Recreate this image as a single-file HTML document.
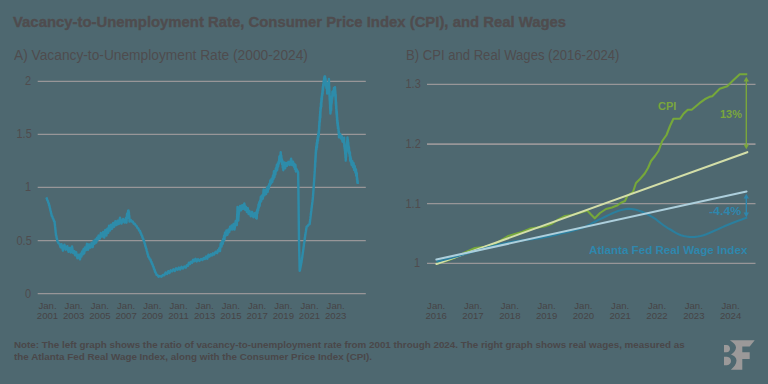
<!DOCTYPE html>
<html><head><meta charset="utf-8"><style>
html,body{margin:0;padding:0;}
body{width:768px;height:384px;overflow:hidden;background:#4e6870;position:relative;font-family:"Liberation Sans",sans-serif;color:#4f4c4e;}
.t{position:absolute;white-space:nowrap;}
#title{left:13px;top:13.7px;font-size:14.6px;font-weight:bold;transform-origin:0 0;transform:scaleX(1.019);-webkit-text-stroke:0.35px #4f4c4e;}
.sub{font-size:14px;transform-origin:0 0;}
.yl{position:absolute;font-size:12.8px;line-height:16px;text-align:right;white-space:nowrap;transform-origin:100% 50%;transform:scaleX(0.86);}
.xl{position:absolute;top:300.5px;color:#474446;width:40px;text-align:center;font-size:9.6px;line-height:10.4px;}
.note{left:13.5px;font-size:9.6px;font-weight:bold;transform-origin:0 0;color:#4a4749;}
.ann{position:absolute;font-weight:bold;white-space:nowrap;}
</style></head><body>
<svg width="768" height="384" viewBox="0 0 768 384" style="position:absolute;left:0;top:0"><line x1="37.7" y1="81.3" x2="365.8" y2="81.3" stroke="#989698" stroke-width="1.25"/><line x1="37.7" y1="134.4" x2="365.8" y2="134.4" stroke="#989698" stroke-width="1.25"/><line x1="37.7" y1="187.4" x2="365.8" y2="187.4" stroke="#989698" stroke-width="1.25"/><line x1="37.7" y1="240.5" x2="365.8" y2="240.5" stroke="#989698" stroke-width="1.25"/><line x1="37.7" y1="293.6" x2="365.8" y2="293.6" stroke="#989698" stroke-width="1.25"/><line x1="427" y1="84.4" x2="755.5" y2="84.4" stroke="#989698" stroke-width="1.25"/><line x1="427" y1="144.05" x2="755.5" y2="144.05" stroke="#989698" stroke-width="1.7"/><line x1="427" y1="203.6" x2="755.5" y2="203.6" stroke="#989698" stroke-width="1.25"/><line x1="427" y1="263.4" x2="755.5" y2="263.4" stroke="#989698" stroke-width="1.25"/><path d="M46.25 197.40 L46.76 198.29 L47.27 200.26 L47.78 200.80 L48.29 202.79 L48.80 203.26 L49.12 205.47 L49.44 205.59 L49.77 207.81 L50.09 208.41 L50.41 210.58 L50.73 211.30 L51.06 213.02 L51.38 213.83 L51.70 215.94 L52.28 216.31 L52.86 218.51 L53.44 219.08 L54.02 221.12 L54.60 221.70 L54.76 224.03 L54.91 224.78 L55.07 226.69 L55.22 227.57 L55.38 229.63 L55.53 230.28 L55.69 232.58 L55.84 233.24 L56.00 235.32 L56.32 235.74 L56.64 238.00 L56.96 238.60 L57.28 240.87 L57.60 241.36 L58.58 243.35 L59.55 243.95 L60.52 247.27 L61.50 244.25 L62.95 250.62 L64.40 244.68 L65.85 249.67 L67.30 246.13 L68.48 251.79 L69.66 247.98 L70.84 252.54 L72.02 246.47 L73.20 253.05 L74.17 251.13 L75.13 255.34 L76.10 252.04 L77.40 258.20 L78.70 254.85 L80.00 259.33 L80.70 253.71 L81.40 256.55 L82.10 251.56 L82.80 254.38 L83.50 249.13 L84.20 253.43 L84.90 247.47 L85.93 250.19 L86.97 243.82 L88.00 249.80 L89.17 244.30 L90.35 247.71 L91.53 243.07 L92.70 247.11 L93.63 240.91 L94.57 243.82 L95.50 239.54 L96.28 242.49 L97.05 237.73 L97.82 239.66 L98.60 235.56 L99.73 238.72 L100.87 233.08 L102.00 236.60 L103.10 231.99 L104.20 237.49 L105.30 229.89 L106.40 235.50 L107.30 228.65 L108.20 232.80 L109.10 225.74 L110.00 230.63 L111.05 224.75 L112.10 228.76 L113.15 222.88 L114.20 226.78 L115.36 221.16 L116.52 225.10 L117.68 220.67 L118.84 223.98 L120.00 217.74 L121.50 223.61 L123.00 219.00 L124.50 222.63 L126.00 217.77 L126.50 222.68 L127.00 214.03 L127.50 217.51 L127.70 212.67 L127.90 215.92 L128.10 210.74 L128.30 212.76 L128.50 210.51 L128.70 215.56 L128.90 212.13 L129.10 218.41 L129.30 215.74 L129.50 221.66 L130.65 219.75 L131.80 221.60 L132.78 221.57 L133.75 223.77 L134.72 223.63 L135.70 225.50 L136.56 226.07 L137.42 228.01 L138.28 228.41 L139.14 230.58 L140.00 230.85 L140.50 232.84 L141.00 233.37 L141.50 235.26 L142.00 235.48 L142.55 237.89 L143.10 238.60 L143.65 240.60 L144.20 241.29 L144.56 243.36 L144.92 243.74 L145.28 246.07 L145.64 246.43 L146.00 248.30 L146.38 248.72 L146.77 251.05 L147.15 251.76 L147.53 253.93 L147.92 254.36 L148.30 256.78 L149.03 257.23 L149.77 259.25 L150.50 259.35 L151.00 261.72 L151.50 261.86 L152.00 263.98 L152.50 264.19 L153.02 266.30 L153.53 266.83 L154.05 269.25 L154.57 269.57 L155.08 272.11 L155.60 272.38 L156.55 274.77 L157.50 275.13 L158.65 276.74 L159.80 276.18 L161.40 276.68 L163.00 274.89 L164.33 275.34 L165.67 272.54 L167.00 274.00 L168.25 271.21 L169.50 272.99 L170.75 270.35 L172.00 271.43 L173.38 269.29 L174.75 270.95 L176.12 268.26 L177.50 269.78 L178.83 267.62 L180.17 269.57 L181.50 266.73 L182.93 268.57 L184.37 266.40 L185.80 267.68 L186.85 265.19 L187.90 265.84 L188.95 262.69 L190.00 263.97 L191.05 261.73 L192.10 262.61 L193.15 259.71 L194.20 261.36 L195.47 258.79 L196.73 261.45 L198.00 259.17 L199.50 260.88 L201.00 258.93 L202.50 259.98 L203.67 258.02 L204.83 258.96 L206.00 256.42 L207.20 258.80 L208.40 254.77 L209.60 256.50 L210.80 254.27 L211.87 255.54 L212.93 253.37 L214.00 254.59 L215.55 251.80 L217.10 253.17 L217.82 250.32 L218.55 251.29 L219.28 248.20 L220.00 251.05 L220.77 243.39 L221.53 246.70 L222.30 241.07 L222.74 243.88 L223.19 238.99 L223.63 241.26 L224.07 235.81 L224.51 239.74 L224.96 232.71 L225.40 235.90 L226.43 230.53 L227.47 234.73 L228.50 229.58 L229.30 232.19 L230.10 226.78 L230.90 229.64 L231.70 225.43 L232.63 229.41 L233.57 223.90 L234.50 229.47 L235.70 220.95 L236.90 225.08 L236.97 219.36 L237.03 221.34 L237.10 215.70 L237.17 219.32 L237.23 213.68 L237.30 215.90 L237.37 211.56 L237.43 214.25 L237.50 207.07 L237.62 213.56 L237.73 210.75 L237.85 217.33 L237.97 212.97 L238.08 220.27 L238.20 216.94 L238.31 220.67 L238.43 213.65 L238.54 217.16 L238.66 212.38 L238.77 214.68 L238.89 208.06 L239.00 212.38 L240.06 206.03 L241.12 210.27 L242.18 205.19 L243.24 208.81 L244.30 203.49 L245.17 209.83 L246.03 206.84 L246.90 211.95 L247.77 208.28 L248.63 214.07 L249.50 211.03 L250.80 216.30 L252.10 211.80 L253.40 217.21 L254.70 213.12 L256.00 217.83 L256.36 212.32 L256.71 218.62 L257.07 210.19 L257.43 213.26 L257.79 208.29 L258.14 210.43 L258.50 204.57 L258.89 207.57 L259.27 202.13 L259.66 205.88 L260.04 200.66 L260.43 202.08 L260.81 196.73 L261.20 201.20 L262.02 195.52 L262.85 198.69 L263.68 189.47 L264.50 195.20 L265.30 190.25 L266.10 194.08 L266.90 187.82 L267.70 191.85 L268.22 186.30 L268.74 188.75 L269.26 184.02 L269.78 185.72 L270.30 180.44 L270.98 183.68 L271.65 178.71 L272.32 182.00 L273.00 175.49 L273.48 179.04 L273.95 171.21 L274.43 177.18 L274.90 171.60 L275.38 174.46 L275.85 168.30 L276.32 171.14 L276.80 165.04 L277.24 169.93 L277.68 163.49 L278.12 166.58 L278.56 161.76 L279.00 163.42 L279.34 156.51 L279.68 161.77 L280.02 155.72 L280.36 158.50 L280.70 152.31 L280.99 159.06 L281.28 155.61 L281.57 161.22 L281.86 159.20 L282.14 164.41 L282.43 160.69 L282.72 167.64 L283.01 163.71 L283.30 170.19 L284.23 162.41 L285.15 168.40 L286.07 162.84 L287.00 165.85 L288.37 161.81 L289.73 165.02 L291.10 158.72 L292.07 165.08 L293.03 161.68 L294.00 166.67 L294.48 163.85 L294.96 169.09 L295.44 165.00 L295.92 171.56 L296.40 168.93 L298.10 172.26 L298.12 173.01 L298.15 175.02 L298.17 175.91 L298.19 177.79 L298.22 178.63 L298.24 180.60 L298.26 181.40 L298.28 183.42 L298.31 184.23 L298.33 186.30 L298.35 186.93 L298.38 188.93 L298.40 189.82 L298.42 191.74 L298.43 192.49 L298.45 194.54 L298.47 195.06 L298.48 197.49 L298.50 198.11 L298.52 200.07 L298.53 200.77 L298.55 202.74 L298.57 203.57 L298.58 205.57 L298.60 206.34 L298.62 208.31 L298.63 209.12 L298.65 211.19 L298.67 211.85 L298.68 213.92 L298.70 214.67 L298.72 216.65 L298.73 217.58 L298.75 219.56 L298.77 220.36 L298.78 222.21 L298.80 222.94 L298.82 225.10 L298.83 225.61 L298.85 227.70 L298.87 228.46 L298.88 230.66 L298.90 231.37 L298.92 233.27 L298.93 234.11 L298.95 236.05 L298.97 236.99 L298.98 238.95 L299.00 239.71 L299.03 241.70 L299.06 242.47 L299.10 244.50 L299.13 245.29 L299.16 247.32 L299.19 247.90 L299.22 250.20 L299.25 251.08 L299.29 253.18 L299.32 253.99 L299.35 256.06 L299.38 256.69 L299.41 258.77 L299.45 259.69 L299.48 261.53 L299.51 262.44 L299.54 264.55 L299.57 265.28 L299.60 267.33 L299.64 267.84 L299.67 270.19 L299.70 270.89 L299.96 270.11 L300.21 268.33 L300.47 267.59 L300.73 265.73 L300.99 264.90 L301.24 263.14 L301.50 262.21 L301.69 260.39 L301.88 259.71 L302.07 257.79 L302.26 257.07 L302.45 255.04 L302.64 254.37 L302.83 252.32 L303.02 251.79 L303.21 249.76 L303.40 249.15 L303.60 247.06 L303.80 246.08 L304.00 243.71 L304.20 243.08 L304.40 241.18 L304.60 240.23 L304.80 238.23 L305.00 237.32 L305.23 235.35 L305.46 234.35 L305.69 232.38 L305.91 231.47 L306.14 229.60 L306.37 228.64 L306.60 226.57 L307.63 226.11 L308.67 224.50 L309.70 224.09 L309.86 222.22 L310.02 221.24 L310.19 219.46 L310.35 218.69 L310.51 216.67 L310.68 215.93 L310.84 214.18 L311.00 213.33 L311.18 211.23 L311.36 210.46 L311.54 208.34 L311.72 207.62 L311.90 205.47 L312.08 204.80 L312.26 202.72 L312.44 201.94 L312.62 199.88 L312.80 199.03 L312.91 196.78 L313.02 196.15 L313.12 194.06 L313.23 193.37 L313.34 191.33 L313.45 190.45 L313.55 188.33 L313.66 187.59 L313.77 185.50 L313.88 184.96 L313.98 182.28 L314.09 181.74 L314.20 179.78 L314.29 178.97 L314.37 176.84 L314.46 176.29 L314.54 173.91 L314.63 173.15 L314.71 171.22 L314.80 170.18 L314.89 168.25 L314.97 167.53 L315.06 163.84 L315.14 166.98 L315.23 160.44 L315.31 162.74 L315.40 157.82 L315.49 161.81 L315.57 155.53 L315.66 157.50 L315.74 152.37 L315.83 154.21 L315.91 149.87 L316.00 152.43 L316.25 146.50 L316.49 149.75 L316.74 142.99 L316.98 147.48 L317.23 139.94 L317.47 143.55 L317.72 136.99 L317.96 140.87 L318.21 134.14 L318.45 137.11 L318.70 131.29 L318.81 135.29 L318.92 129.55 L319.02 131.39 L319.13 125.11 L319.24 129.13 L319.35 121.47 L319.46 125.95 L319.57 120.73 L319.68 122.74 L319.78 116.75 L319.89 121.39 L320.00 114.17 L320.12 118.34 L320.23 111.24 L320.35 117.36 L320.47 107.80 L320.58 111.41 L320.70 106.90 L320.82 108.78 L320.93 103.15 L321.05 106.59 L321.17 101.88 L321.28 106.68 L321.40 98.26 L321.58 102.27 L321.76 96.05 L321.93 99.38 L322.11 93.29 L322.29 95.52 L322.47 90.56 L322.64 93.97 L322.82 86.89 L323.00 90.97 L323.23 84.23 L323.45 87.08 L323.68 80.85 L323.90 83.94 L324.12 77.92 L324.35 81.03 L324.57 76.33 L324.80 78.46 L325.04 76.51 L325.28 82.48 L325.52 78.57 L325.76 84.97 L326.00 82.14 L326.40 88.09 L326.80 84.56 L327.20 93.67 L327.54 84.95 L327.88 87.25 L328.22 82.69 L328.56 85.98 L328.90 78.88 L328.97 84.90 L329.03 82.17 L329.10 88.85 L329.17 85.86 L329.23 91.27 L329.30 86.84 L329.37 92.88 L329.43 90.08 L329.50 96.49 L329.57 93.03 L329.63 99.55 L329.70 95.72 L329.78 101.04 L329.86 99.26 L329.94 104.02 L330.02 100.96 L330.10 107.95 L330.18 104.36 L330.26 110.40 L330.34 108.09 L330.42 113.52 L330.50 109.34 L330.63 112.50 L330.77 105.99 L330.90 110.33 L331.03 104.02 L331.17 110.30 L331.30 101.78 L331.43 104.47 L331.57 98.36 L331.70 103.01 L331.94 96.45 L332.18 99.89 L332.42 91.65 L332.66 96.73 L332.90 91.09 L333.42 95.22 L333.95 87.84 L334.48 91.57 L335.00 87.24 L335.09 92.74 L335.18 89.84 L335.27 95.51 L335.36 91.41 L335.45 97.15 L335.55 95.15 L335.64 99.83 L335.73 94.69 L335.82 103.89 L335.91 100.83 L336.00 105.74 L336.11 102.33 L336.22 108.73 L336.32 105.75 L336.43 112.89 L336.54 109.61 L336.65 115.01 L336.76 111.39 L336.87 117.37 L336.98 113.70 L337.08 120.78 L337.19 117.45 L337.30 123.14 L337.47 120.48 L337.64 125.68 L337.81 122.71 L337.98 128.78 L338.15 125.88 L338.32 130.32 L338.49 128.27 L338.66 132.92 L338.83 131.17 L339.00 137.35 L340.00 133.85 L341.00 138.57 L341.75 136.03 L342.50 141.67 L343.25 138.68 L344.00 143.02 L344.15 137.66 L344.30 146.59 L344.45 143.86 L344.60 148.40 L344.75 145.57 L344.90 150.84 L345.05 148.82 L345.20 153.87 L345.35 151.97 L345.50 157.73 L345.65 153.91 L345.80 160.65 L345.93 154.55 L346.06 156.85 L346.19 151.77 L346.32 153.64 L346.45 146.86 L346.58 152.25 L346.72 146.13 L346.85 149.60 L346.98 142.52 L347.11 146.81 L347.24 140.53 L347.37 142.28 L347.50 137.37 L347.69 143.95 L347.88 139.82 L348.06 144.96 L348.25 142.51 L348.44 148.58 L348.62 145.89 L348.81 150.77 L349.00 147.60 L349.24 153.77 L349.48 151.53 L349.71 156.25 L349.95 152.41 L350.19 160.70 L350.42 156.37 L350.66 161.74 L350.90 158.29 L351.60 164.97 L352.30 161.24 L353.00 167.18 L353.60 163.21 L354.20 170.03 L354.80 166.20 L355.40 172.75 L356.00 169.52 L356.20 175.75 L356.40 172.15 L356.60 176.79 L356.80 173.11 L357.00 179.97 L357.20 177.93 L357.40 182.72 L357.60 180.77 L357.80 184.00" fill="none" stroke="#2d8caa" stroke-width="2.4" stroke-linejoin="round"/><path d="M436.40 263.86 L445.00 261.26 L455.00 257.66 L465.00 252.56 L475.00 247.96 L485.00 246.86 L493.00 244.98 L500.00 240.96 L508.00 236.08 L515.00 234.06 L522.00 232.04 L530.00 228.66 L537.00 227.64 L545.00 226.26 L552.00 223.74 L558.00 219.58 L565.00 216.06 L572.00 215.04 L580.00 212.66 L587.30 210.43 L591.00 214.50 L594.75 218.30 L600.00 213.00 L606.00 209.00 L612.00 207.50 L617.00 205.60 L621.00 202.75 L625.00 201.00 L627.25 196.00 L633.00 192.00 L636.00 183.00 L640.00 179.00 L644.75 173.50 L648.00 168.00 L651.00 161.00 L655.00 156.00 L658.50 151.00 L662.25 141.00 L666.50 135.00 L670.00 126.00 L673.40 118.80 L680.00 118.80 L683.50 113.75 L687.80 109.70 L691.70 109.70 L699.50 103.20 L704.70 99.30 L710.00 96.60 L712.25 96.25 L719.75 88.75 L727.25 86.25 L733.50 80.00 L739.75 74.25 L747.25 74.25" fill="none" stroke="#76a83a" stroke-width="2.1" stroke-linejoin="round"/><line x1="436.4" y1="264" x2="747.3" y2="152.2" stroke="#d3dea8" stroke-width="2.1" stroke-linecap="round"/><path d="M436.40 261.71 L438.81 261.11 L442.26 260.25 L446.18 259.26 L450.00 258.26 L453.65 257.25 L457.41 256.18 L461.22 255.08 L465.00 254.00 L468.75 252.93 L472.50 251.86 L476.25 250.80 L480.00 249.73 L483.75 248.65 L487.50 247.54 L491.25 246.47 L495.00 245.47 L498.75 244.56 L502.50 243.72 L506.25 242.93 L510.00 242.21 L513.75 241.57 L517.50 240.99 L521.25 240.46 L525.00 239.95 L528.63 239.54 L532.19 239.20 L535.90 238.80 L540.00 238.19 L544.77 237.27 L550.00 236.14 L555.23 234.95 L560.00 233.84 L564.22 232.85 L568.12 231.89 L571.72 230.97 L575.00 230.08 L577.85 229.29 L580.31 228.58 L582.62 227.83 L585.00 226.91 L587.38 225.80 L589.69 224.56 L592.15 223.20 L595.00 221.70 L598.56 219.93 L602.62 217.94 L606.62 216.00 L610.00 214.40 L612.46 213.25 L614.36 212.38 L616.08 211.67 L618.00 211.00 L620.24 210.31 L622.58 209.68 L624.94 209.18 L627.25 208.90 L629.47 208.86 L631.66 209.02 L633.82 209.34 L636.00 209.80 L638.18 210.40 L640.34 211.14 L642.53 212.02 L644.75 213.00 L647.02 214.07 L649.33 215.25 L651.66 216.55 L654.00 218.00 L656.38 219.70 L658.80 221.61 L661.19 223.53 L663.50 225.25 L665.68 226.71 L667.78 228.03 L669.86 229.27 L672.00 230.50 L674.16 231.79 L676.33 233.09 L678.58 234.29 L681.00 235.25 L683.65 235.98 L686.48 236.53 L689.38 236.88 L692.25 237.00 L695.06 236.88 L697.86 236.53 L700.67 235.98 L703.50 235.25 L706.39 234.27 L709.33 233.05 L712.22 231.74 L715.00 230.50 L717.61 229.35 L720.09 228.20 L722.54 227.08 L725.00 226.00 L727.45 224.98 L729.86 224.00 L732.34 223.02 L735.00 222.00 L738.19 220.80 L741.75 219.50 L745.00 218.32 L747.25 217.50" fill="none" stroke="#2b7f9e" stroke-width="2.1" stroke-linejoin="round"/><line x1="436.4" y1="259.5" x2="746.5" y2="191.5" stroke="#adcfdc" stroke-width="2.1" stroke-linecap="round"/><line x1="746.3" y1="80" x2="746.3" y2="146" stroke="#7aa63c" stroke-width="1.4"/><path d="M743.6 81.5 L746.3 76.8 L749 81.5 Z" fill="#7aa63c"/><path d="M743.6 144.5 L746.3 149.2 L749 144.5 Z" fill="#7aa63c"/><line x1="746.3" y1="197" x2="746.3" y2="214" stroke="#2e87ad" stroke-width="1.4"/><path d="M743.6 198.5 L746.3 193.8 L749 198.5 Z" fill="#2e87ad"/><path d="M743.6 212.5 L746.3 217.2 L749 212.5 Z" fill="#2e87ad"/><g fill="#9b9999"><path d="M729.9 340.2 L754.7 340.2 L749.7 346.4 L742.3 346.4 L742.3 352.3 L749.7 352.3 L749.7 359 L742.3 359 L742.3 369.7 L730.9 369.7 C 734 367 736.5 364 736.5 360.5 C 736.5 357.5 734 355.5 731 354.5 C 734 352.5 736 350 736 347.5 C 736 345 734 343 729.9 340.2 Z"/><path d="M724 344.9 L726.5 344.9 C 729 344.9 730 347 730 348.6 C 730 350.5 729 352.3 726.5 352.3 L724 352.3 Z"/><path d="M724 356.8 L727 356.8 C 729.5 356.8 731 359 731 361 C 731 363 729.5 365.2 727 365.2 L724 365.2 Z"/></g></svg>
<div class="t" id="title">Vacancy-to-Unemployment Rate, Consumer Price Index (CPI), and Real Wages</div>
<div class="t sub" id="subA" style="left:13.5px;top:47px;transform:scaleX(0.982)">A) Vacancy-to-Unemployment Rate (2000-2024)</div>
<div class="t sub" id="subB" style="left:406px;top:47px;transform:scaleX(0.935)">B) CPI and Real Wages (2016-2024)</div>
<div class="yl" style="top:73.3px;right:736.5px">2</div><div class="yl" style="top:126.4px;right:736.5px">1.5</div><div class="yl" style="top:179.4px;right:736.5px">1</div><div class="yl" style="top:232.5px;right:736.5px">0.5</div><div class="yl" style="top:285.6px;right:736.5px">0</div><div class="yl" style="top:76.4px;right:347.5px">1.3</div><div class="yl" style="top:136.05px;right:347.5px">1.2</div><div class="yl" style="top:195.6px;right:347.5px">1.1</div><div class="yl" style="top:255.39999999999998px;right:347.5px">1</div>
<div class="xl" style="left:27.5px">Jan.<br>2001</div><div class="xl" style="left:53.7px">Jan.<br>2003</div><div class="xl" style="left:79.9px">Jan.<br>2005</div><div class="xl" style="left:106.1px">Jan.<br>2007</div><div class="xl" style="left:132.3px">Jan.<br>2009</div><div class="xl" style="left:158.5px">Jan.<br>2011</div><div class="xl" style="left:184.7px">Jan.<br>2013</div><div class="xl" style="left:210.9px">Jan.<br>2015</div><div class="xl" style="left:237.10000000000002px">Jan.<br>2017</div><div class="xl" style="left:263.29999999999995px">Jan.<br>2019</div><div class="xl" style="left:289.5px">Jan.<br>2021</div><div class="xl" style="left:315.7px">Jan.<br>2023</div>
<div class="xl" style="left:416.2px">Jan.<br>2016</div><div class="xl" style="left:453.0px">Jan.<br>2017</div><div class="xl" style="left:489.79999999999995px">Jan.<br>2018</div><div class="xl" style="left:526.6px">Jan.<br>2019</div><div class="xl" style="left:563.4px">Jan.<br>2020</div><div class="xl" style="left:600.2px">Jan.<br>2021</div><div class="xl" style="left:637.0px">Jan.<br>2022</div><div class="xl" style="left:673.8px">Jan.<br>2023</div><div class="xl" style="left:710.5999999999999px">Jan.<br>2024</div>
<div class="t note" id="n1" style="top:338.5px;transform:scaleX(1.0245)">Note: The left graph shows the ratio of vacancy-to-unemployment rate from 2001 through 2024. The right graph shows real wages, measured as</div>
<div class="t note" id="n2" style="top:350.5px;transform:scaleX(1.026)">the Atlanta Fed Real Wage Index, along with the Consumer Price Index (CPI).</div>
<div class="ann" id="cpi" style="left:658px;top:100px;font-size:11px;color:#7aa63c">CPI</div>
<div class="ann" id="p13" style="left:720px;top:108px;font-size:11px;color:#7aa63c">13%</div>
<div class="ann" id="p44" style="left:709px;top:204.5px;font-size:11px;transform-origin:0 0;transform:scaleX(1.12);color:#2e87ad">-4.4%</div>
<div class="ann" id="rwl" style="left:588.5px;top:243.5px;font-size:11px;transform-origin:0 0;transform:scaleX(1.056);color:#2e87ad">Atlanta Fed Real Wage Index</div>
</body></html>
